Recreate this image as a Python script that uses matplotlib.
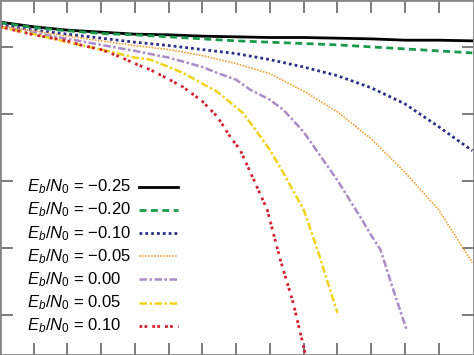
import matplotlib
matplotlib.use("Agg")
import matplotlib.pyplot as plt

plt.rcParams['mathtext.fontset'] = 'custom'
plt.rcParams['mathtext.rm'] = 'Liberation Sans'
plt.rcParams['mathtext.it'] = 'Liberation Sans:italic'
plt.rcParams['font.family'] = ['Liberation Sans', 'DejaVu Sans']

labels = ["-0.25", "-0.20", "-0.10", "-0.05", "0.00", "0.05", "0.10"]

x_full = [0, 1, 2, 3, 4, 5, 6, 7, 8, 9, 10, 11, 12, 13, 14]
y_m025 = [4.37, 4.30, 4.25, 4.22, 4.19, 4.18, 4.16, 4.15, 4.14, 4.14, 4.13, 4.12, 4.10, 4.10, 4.09]
y_m020 = [4.36, 4.29, 4.24, 4.20, 4.18, 4.15, 4.12, 4.09, 4.07, 4.05, 4.03, 4.00, 3.97, 3.94, 3.91]
y_m010 = [4.33, 4.25, 4.19, 4.13, 4.07, 4.02, 3.96, 3.90, 3.81, 3.70, 3.57, 3.39, 3.15, 2.81, 2.45]
y_m005 = [4.31, 4.24, 4.16, 4.09, 4.02, 3.96, 3.87, 3.75, 3.60, 3.34, 3.03, 2.63, 2.13, 1.57, 0.78]

x_p000 = [0, 1, 2, 3, 4, 5, 6, 6.44, 7, 7.42, 8, 8.40, 9, 10, 10.68, 11, 11.28, 11.66, 12.05]
y_p000 = [4.30, 4.21, 4.12, 4.03, 3.94, 3.84, 3.70, 3.61, 3.51, 3.36, 3.21, 3.06, 2.73, 2.01,
          1.46, 1.19, 0.97, 0.37, -0.22]

x_p005 = [0, 1, 2, 3, 4, 4.45, 5, 5.43, 6, 6.44, 7.21, 7.72, 8, 8.43, 9, 9.41, 10.0]
y_p005 = [4.30, 4.19, 4.07, 3.96, 3.84, 3.81, 3.70, 3.61, 3.45, 3.33, 3.01, 2.66, 2.46, 2.09,
          1.57, 0.97, 0.03]

x_p010 = [0, 1, 1.99, 2.37, 3, 3.56, 4, 4.45, 4.99, 5.43, 5.99, 6.44, 6.82, 7.12, 7.42,
          7.92, 8.31, 8.69, 9.02, 9.17]
y_p010 = [4.30, 4.18, 4.09, 4.03, 3.96, 3.85, 3.75, 3.66, 3.52, 3.40, 3.19, 2.96, 2.66, 2.46,
          2.13, 1.57, 0.82, 0.18, -0.52, -0.85]

series = [
    (x_full, y_m025, dict(color='black', lw=2.0, ls='-')),
    (x_full, y_m020, dict(color='#1a9a4a', lw=2.0, ls=(0, (2.5, 1.6)))),
    (x_full, y_m010, dict(color='#2a2f88', lw=2.0, ls=(0, (1, 1.1)))),
    (x_full, y_m005, dict(color='#f5a33a', lw=1.2, ls=(0, (1, 0.8)))),
    (x_p000, y_p000, dict(color='#a98cc8', lw=1.8, ls=(0, (3, 1, 1, 1)))),
    (x_p005, y_p005, dict(color='#f2d21a', lw=1.8, ls=(0, (3, 1, 1, 1)))),
    (x_p010, y_p010, dict(color='#d42030', lw=2.0, ls=(0, (1, 0.8, 1, 1.8)))),
]

fig = plt.figure(figsize=(4.74, 3.55), dpi=100)
ax = fig.add_axes([0, 0, 1, 1])
for xs, ys, st in series:
    ax.plot(xs, ys, **st)

ax.set_xlim(0, 14.05)
ax.set_ylim(-0.6, 4.70)
ax.set_xticks(range(1, 14))
ax.set_yticks([0, 1, 2, 3, 4])
ax.tick_params(direction='in', length=9, width=1.2, color='#666666',
               top=True, right=True, labelbottom=False, labelleft=False)
for s in ax.spines.values():
    s.set_color('#888888')
    s.set_linewidth(2.0)

# legend
y0 = 1 - 187 / 355
dy = 23.1 / 355
hx0, hx1 = 139 / 474, 178 / 474
for i, (lab, (xs, ys, st)) in enumerate(zip(labels, series)):
    yy = y0 - i * dy
    txt = r'$E_b/N_0$' + ' = ' + lab.replace('-', '\u2212')
    ax.text(27 / 474, yy, txt, transform=ax.transAxes, fontsize=12,
            va='center', ha='left')
    ax.plot([hx0, hx1], [yy, yy], transform=ax.transAxes, **st)

fig.savefig('out.png', dpi=100)
